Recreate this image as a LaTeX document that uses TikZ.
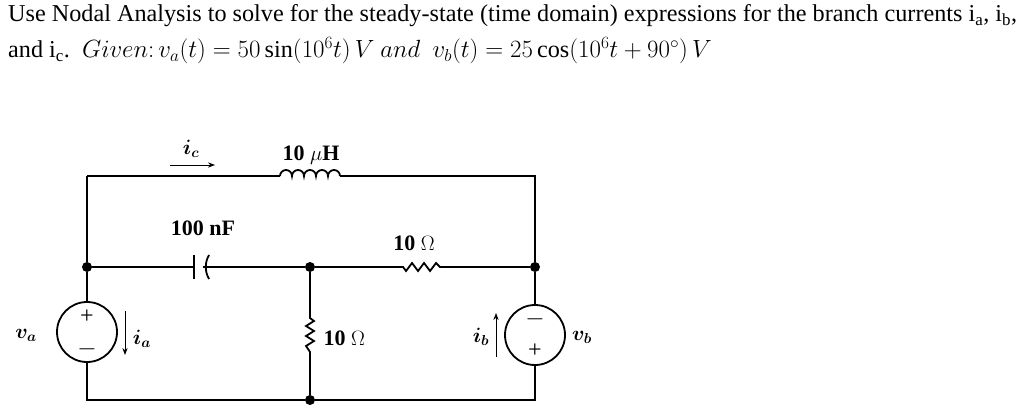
\documentclass[tikz,border=0pt]{standalone}
\usepackage{fontspec}
\setmainfont{Liberation Serif}
\usetikzlibrary{arrows.meta}
\begin{document}
\begin{tikzpicture}[x=1pt,y=-1pt,
  wire/.style={line width=1.8pt},
  dotn/.style={circle,fill=black,inner sep=0pt,minimum size=10pt},
  lbl/.style={font=\bfseries\fontsize{22}{22}\selectfont},
  src/.style={circle,draw,line width=1.8pt,minimum size=60pt,inner sep=0pt},
  carrow/.style={-{Stealth[length=7pt]},line width=1pt},
  cl/.style={font=\boldmath\fontsize{21}{21}\selectfont}]
\useasboundingbox (0,0) rectangle (1030,412);
\node[anchor=base west,inner sep=0pt,font=\fontsize{24.2}{28}\selectfont] (t1) at (8,22) {Use Nodal Analysis to solve for the steady-state (time domain) expressions for the branch currents i\textsubscript{a}, i\textsubscript{b},};
\node[anchor=base west,inner sep=0pt,font=\fontsize{24.2}{28}\selectfont] (t2) at (8,58) {and i\textsubscript{c}.\ \ $Given\colon v_a(t)=50\sin(10^6t)\,V\ and\ \ v_b(t)=25\cos(10^6t+90^\circ)\,V$};
\coordinate (TL) at (87,176); \coordinate (TR) at (535,176);
\node[dotn] (NL) at (87,267) {};
\node[dotn] (NM) at (310,267) {};
\node[dotn] (NR) at (535,267) {};
\node[dotn] (NB) at (310,400) {};
\coordinate (BL) at (87,400); \coordinate (BR) at (535,400);
\node[src] (SA) at (87,332) {};
\node[src] (SB) at (535,335) {};
\node at (87,317) {\fontsize{24}{24}\selectfont +};
\node at (87,349) {\fontsize{24}{24}\selectfont $-$};
\node at (535,319) {\fontsize{24}{24}\selectfont $-$};
\node at (535,351) {\fontsize{24}{24}\selectfont +};
\coordinate (L1) at (280,176); \coordinate (L2) at (340,176);
\draw[wire] (TL) -- (NL) (TL) -- (L1);
\draw[wire] (L1) \foreach \i in {0,...,4} { arc[start angle=180,end angle=0,radius=6pt] };
\draw[wire] (L2) -- (TR) -- (NR);
\coordinate (C1) at (194,267);
\draw[wire] (NL) -- (C1) (194,255) -- (194,279);
\draw[wire] (209,255) arc[start angle=150,end angle=210,radius=24pt];
\draw[wire] (203,267) -- (NM);
\draw[wire] (NM) -- (403,267) -- (406,271) -- (412,263) -- (418,271) -- (424,263) -- (430,271) -- (436,263) -- (440,267) -- (NR);
\draw[wire] (NM) -- (310,318) -- (314,321) -- (306,326) -- (314,331) -- (306,336) -- (314,341) -- (306,346) -- (310,352) -- (NB);
\draw[wire] (NL) -- (SA.north) (SA.south) -- (BL) -- (NB) -- (BR) -- (SB.south) (SB.north) -- (NR);
\node[lbl] (lL) at (311,155) {10 $\mu$H};
\node[lbl] (lC) at (203,228) {100 nF};
\node[lbl] (lR1) at (414,243) {10 $\Omega$};
\node[lbl,anchor=west] (lR2) at (320,338) {10 $\Omega$};
\node[cl] (lva) at (26,335) {$v_a$};
\node[cl] (lvb) at (582,337) {$v_b$};
\coordinate (ic1) at (170,165); \coordinate (ic2) at (215,165);
\draw[carrow] (ic1) -- (ic2);
\node[cl] (lic) at (191,149) {$i_c$};
\coordinate (ia1) at (125,311); \coordinate (ia2) at (125,355);
\draw[carrow] (ia1) -- (ia2);
\node[cl] (lia) at (142,339) {$i_a$};
\coordinate (ib1) at (496,357); \coordinate (ib2) at (496,313);
\draw[carrow] (ib1) -- (ib2);
\node[cl] (lib) at (481,337) {$i_b$};
\end{tikzpicture}
\end{document}
